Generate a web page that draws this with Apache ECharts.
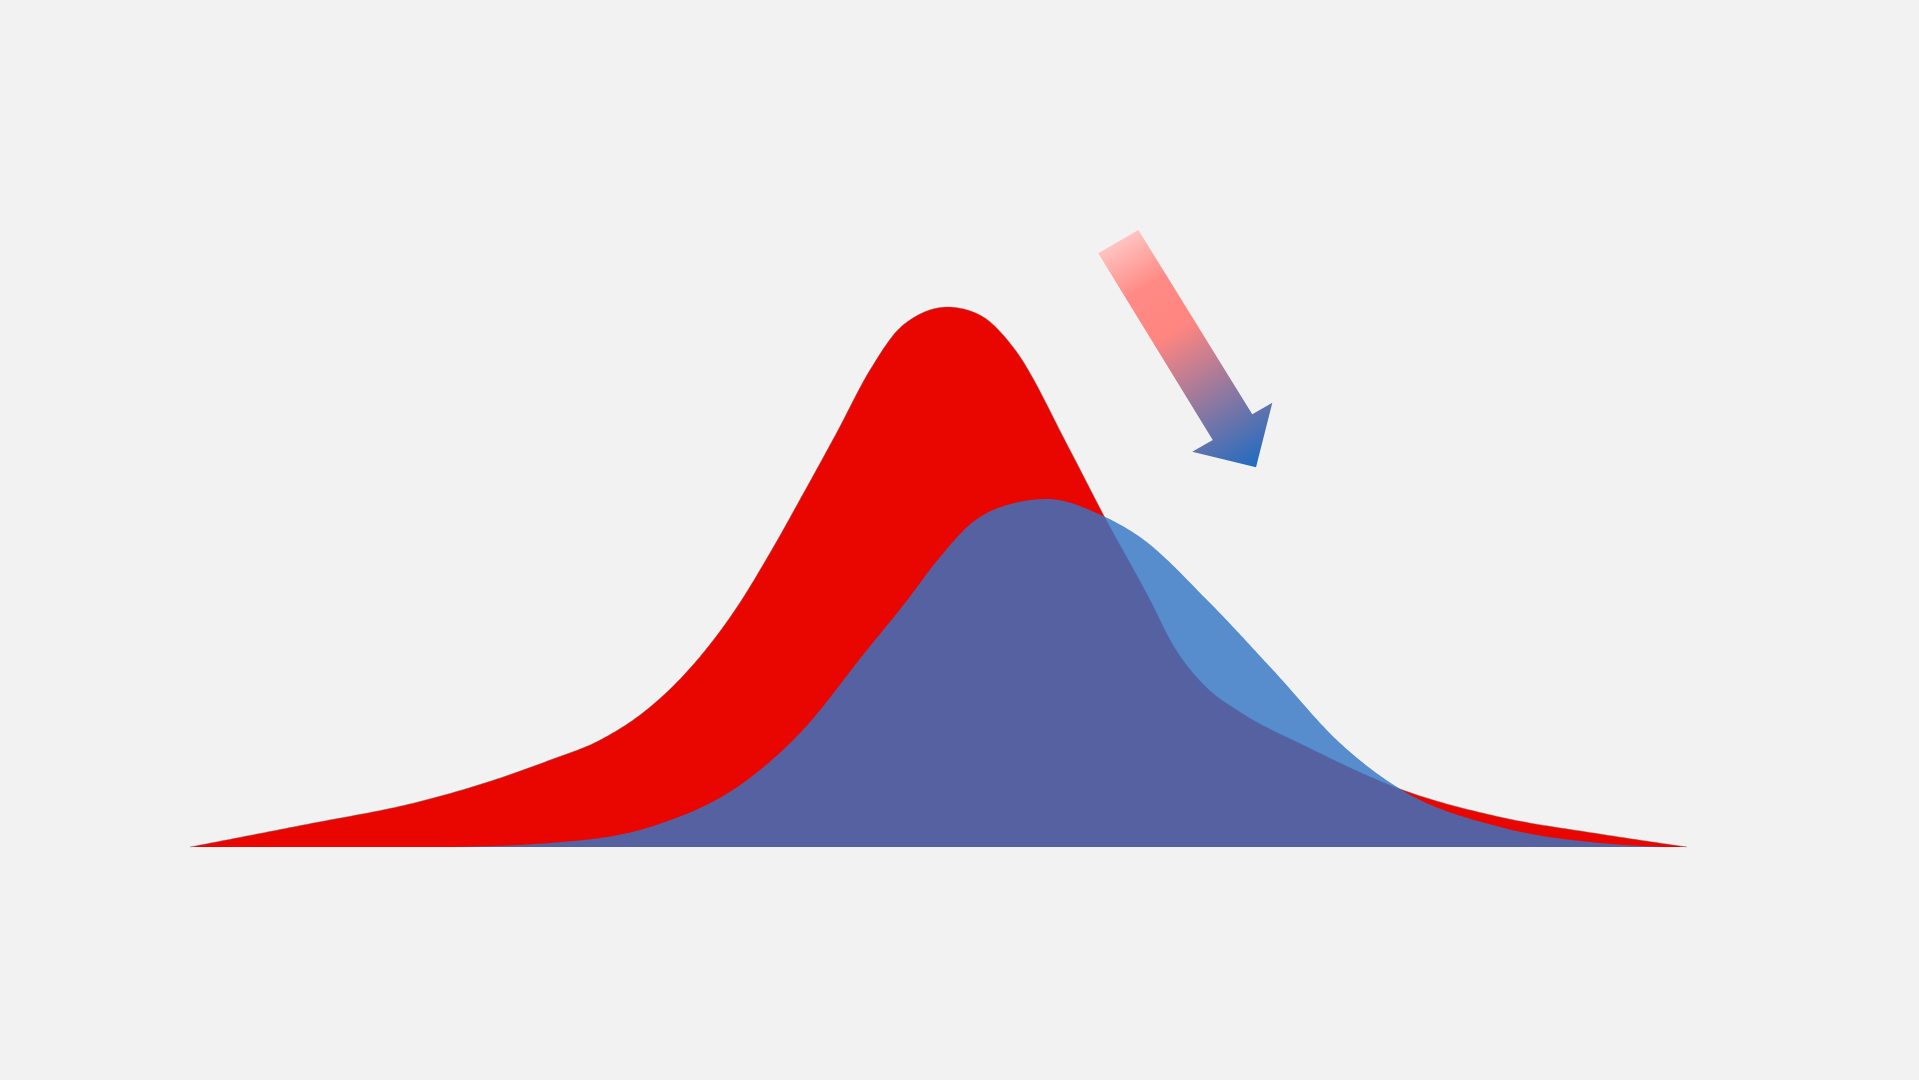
<!DOCTYPE html>
<html>
<head>
<meta charset="utf-8">
<script src="https://cdn.jsdelivr.net/npm/echarts@6/dist/echarts.min.js"></script>
<style>
html,body{margin:0;padding:0;background:#f2f2f2;}
#chart{width:1919px;height:1080px;}
</style>
</head>
<body>
<div id="chart"></div>
<script>
// Red distribution (x, density)
const redX = [0, 7.55, 15.23, 20.31, 24.05, 27.39, 30.73, 34.27, 36.54, 38.74, 40.95, 43.22, 45.42, 47.63, 50.63, 52.77, 54.98, 58.78, 61.06, 64.13, 65.66, 67.94, 70.14, 74.62, 80.83, 87.51, 94.19, 100];
const redY = [0, 4.08, 8.35, 12.43, 16.13, 19.84, 25.96, 35.98, 44.51, 54.53, 65.47, 76.97, 88.46, 96.81, 100.15, 98.66, 92.73, 73.63, 61.39, 45.81, 37.46, 29.49, 25.04, 18.55, 10.76, 5.56, 2.41, 0];

// Blue distribution (x, density)
const blueX = [17.37, 24.05, 30.73, 36.94, 40.75, 45.22, 47.76, 50.10, 52.30, 54.58, 57.25, 60.99, 63.46, 67.94, 72.34, 76.82, 80.83, 87.51, 94.19, 98.66];
const blueY = [0, 0.74, 3.71, 11.87, 21.14, 36.54, 45.25, 53.78, 60.27, 63.43, 64.54, 61.39, 57.49, 45.81, 32.83, 19.29, 10.76, 3.71, 0.74, 0];

// Shift arrow outline (in the same data units)
const arrowX = [60.67, 63.35, 70.96, 72.30, 71.21, 66.95, 68.32];
const arrowY = [110.11, 114.43, 80.25, 82.40, 70.42, 73.31, 75.48];

// Monotone cubic (x-monotone) curve through pixel points, rendered as fine polyline
function curvePath(P) {
  const n = P.length, h = [], d = [], m = [];
  for (let i = 0; i < n - 1; i++) {
    h[i] = P[i + 1][0] - P[i][0];
    d[i] = (P[i + 1][1] - P[i][1]) / h[i];
  }
  for (let i = 1; i < n - 1; i++) {
    const s0 = d[i - 1], s1 = d[i];
    const p = (s0 * h[i] + s1 * h[i - 1]) / (h[i - 1] + h[i]);
    m[i] = (Math.sign(s0) + Math.sign(s1)) * Math.min(Math.abs(s0), Math.abs(s1), 0.5 * Math.abs(p)) || 0;
  }
  m[0] = (3 * d[0] - m[1]) / 2;
  m[n - 1] = (3 * d[n - 2] - m[n - 2]) / 2;
  let s = 'M' + P[0][0].toFixed(2) + ' ' + P[0][1].toFixed(2);
  for (let i = 0; i < n - 1; i++) {
    const t3 = h[i] / 3;
    const x0 = P[i][0], y0 = P[i][1];
    const x1 = x0 + t3, y1 = y0 + m[i] * t3;
    const x3 = P[i + 1][0], y3 = P[i + 1][1];
    const x2 = x3 - t3, y2 = y3 - m[i + 1] * t3;
    const steps = Math.max(8, Math.ceil(Math.hypot(x3 - x0, y3 - y0) / 3));
    for (let k = 1; k <= steps; k++) {
      const t = k / steps, u = 1 - t;
      const bx = u * u * u * x0 + 3 * u * u * t * x1 + 3 * u * t * t * x2 + t * t * t * x3;
      const by = u * u * u * y0 + 3 * u * u * t * y1 + 3 * u * t * t * y2 + t * t * t * y3;
      s += ' L' + bx.toFixed(2) + ' ' + by.toFixed(2);
    }
  }
  return s;
}

function areaSeries(xs, ys, fill, stroke, z) {
  return {
    type: 'custom',
    z: z,
    data: [[xs[0], ys[0]]],
    renderItem: function (params, api) {
      const P = xs.map((x, i) => api.coord([x, ys[i]]));
      const base = api.coord([0, 0])[1];
      const c = curvePath(P);
      const area = c + ' L' + P[P.length - 1][0] + ' ' + base + ' L' + P[0][0] + ' ' + base + ' Z';
      const children = [{ type: 'path', shape: { pathData: area }, style: { fill: fill, stroke: null } }];
      if (stroke) {
        children.push({ type: 'path', shape: { pathData: c }, style: { fill: null, stroke: stroke, lineWidth: 1 } });
      }
      return { type: 'group', children: children };
    }
  };
}

const chart = echarts.init(document.getElementById('chart'));
chart.setOption({
  backgroundColor: '#f2f2f2',
  animation: false,
  grid: { left: 190, right: 232, top: 200, bottom: 233 },
  xAxis: { type: 'value', min: 0, max: 100, show: false },
  yAxis: { type: 'value', min: 0, max: 120, show: false },
  series: [
    areaSeries(redX, redY, '#ea0600', 'rgba(110,110,110,0.45)', 2),
    areaSeries(blueX, blueY, 'rgba(52,117,196,0.82)', null, 3)
  ]
});

const pts = arrowX.map((x, i) => chart.convertToPixel({ gridIndex: 0 }, [x, arrowY[i]]));
const tailMid = [(pts[0][0] + pts[1][0]) / 2, (pts[0][1] + pts[1][1]) / 2];
const tip = pts[4];
chart.setOption({
  graphic: [{
    type: 'polygon',
    shape: { points: pts },
    z: 10,
    style: {
      fill: {
        type: 'linear',
        x: tailMid[0], y: tailMid[1], x2: tip[0], y2: tip[1],
        global: true,
        colorStops: [
          { offset: 0, color: '#ffc3c1' },
          { offset: 0.2, color: '#ff8a85' },
          { offset: 0.4, color: '#ff8580' },
          { offset: 1, color: '#1f6bc1' }
        ]
      }
    }
  }]
});
</script>
</body>
</html>
